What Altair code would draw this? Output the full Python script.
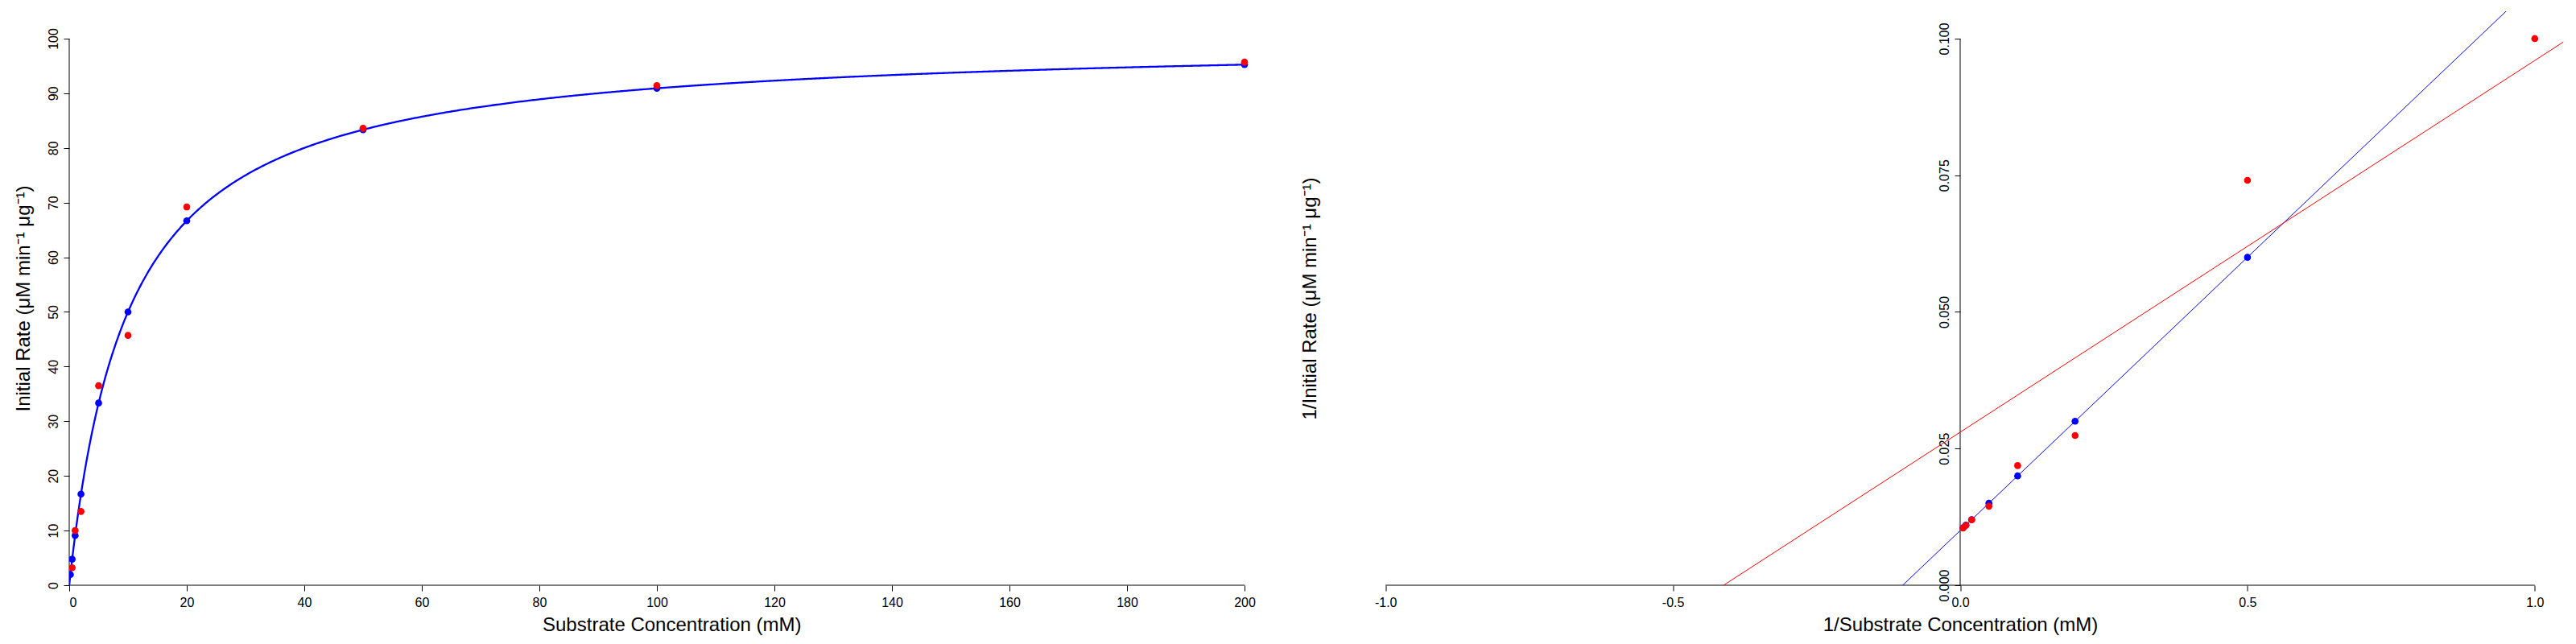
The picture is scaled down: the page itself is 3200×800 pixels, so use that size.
import altair as alt
import pandas as pd

# ---- data ----
S_blue = [0.2, 0.5, 1, 2, 5, 10, 20, 50, 100, 200]
v_blue = [1.96, 4.76, 9.09, 16.67, 33.33, 50.0, 66.67, 83.33, 90.91, 95.24]
S_red = [0.5, 1, 2, 5, 10, 20, 50, 100, 200]
v_red = [3.2, 10.0, 13.5, 36.5, 45.7, 69.2, 83.6, 91.4, 95.7]

# Michaelis-Menten fit (blue curve) parameters
VMAX = 100.0
KM = 10.0
# Lineweaver-Burk straight lines: intercept, slope
lb_names = ["blue", "red"]
lb_intercept = [0.01, 0.028]
lb_slope = [0.1, 0.068]

# axis extents / ticks
left_x_ticks = [0, 20, 40, 60, 80, 100, 120, 140, 160, 180, 200]
left_y_ticks = [0, 10, 20, 30, 40, 50, 60, 70, 80, 90, 100]
right_x_ticks = [-1.0, -0.5, 0.0, 0.5, 1.0]
right_y_ticks = [0.0, 0.025, 0.05, 0.075, 0.1]
left_x_domain = [0, 205]
left_y_domain = [0, 105]
right_x_domain = [-1.05, 1.05]
right_y_domain = [0, 0.105]

FONT = "Liberation Sans"

blue_df = pd.DataFrame({"S": S_blue, "v": v_blue})
red_df = pd.DataFrame({"S": S_red, "v": v_red})

# ---------------- left panel ----------------
W_L, W_R, H = 1496.5, 1499, 713

xL = alt.X("S:Q", scale=alt.Scale(domain=left_x_domain, nice=False, zero=False),
           axis=alt.Axis(values=left_x_ticks, format="d", title="Substrate Concentration (mM)",
                         labelPadding=6, titlePadding=8))
yL = alt.Y("v:Q", scale=alt.Scale(domain=left_y_domain, nice=False, zero=False),
           axis=alt.Axis(values=left_y_ticks, format="d", title="Initial Rate (μM min⁻¹ μg⁻¹)",
                         labelAngle=270, labelAlign="center", labelBaseline="bottom", labelPadding=5,
                         titleAngle=270, titleAlign="center", titleBaseline="middle",
                         titleX=-57, titleY=H / 2))

curve = alt.Chart(alt.sequence(0, 200.25, 0.25, as_="S")).transform_calculate(
    v=f"{VMAX}*datum.S/({KM}+datum.S)"
).mark_line(color="#0000ff", strokeWidth=2.3, clip=True).encode(x=xL, y=yL)

left_xaxis_line = alt.Chart(pd.DataFrame({"S": [left_x_ticks[0]], "S2": [left_x_ticks[-1]], "v": [0]})).mark_rule(
    color="black", strokeWidth=1).encode(x=xL, x2="S2:Q", y=yL)
left_yaxis_line = alt.Chart(pd.DataFrame({"S": [0], "v": [left_y_ticks[0]], "v2": [left_y_ticks[-1]]})).mark_rule(
    color="black", strokeWidth=1).encode(x=xL, y=yL, y2="v2:Q")

blue_pts_L = alt.Chart(blue_df).mark_circle(size=75, opacity=1, color="#0000ff", clip=True).encode(x=xL, y=yL)
red_pts_L = alt.Chart(red_df).mark_circle(size=75, opacity=1, color="#ff0000", clip=True).encode(x=xL, y=yL)

left = alt.layer(left_xaxis_line, left_yaxis_line, curve, blue_pts_L, red_pts_L).properties(width=W_L, height=H)

# ---------------- right panel ----------------
x_zero_px = (0 - right_x_domain[0]) / (right_x_domain[1] - right_x_domain[0]) * W_R

xR = alt.X("X:Q", scale=alt.Scale(domain=right_x_domain, nice=False, zero=False),
           axis=alt.Axis(values=right_x_ticks, title="1/Substrate Concentration (mM)",
                         labelExpr="replace(format(datum.value, '.1f'), '\u2212', '-')",
                         labelPadding=6, titlePadding=8))
yR = alt.Y("Y:Q", scale=alt.Scale(domain=right_y_domain, nice=False, zero=False),
           axis=alt.Axis(values=right_y_ticks, format=".3f", title="1/Initial Rate (μM min⁻¹ μg⁻¹)",
                         offset=-x_zero_px,
                         labelAngle=270, labelAlign="center", labelBaseline="bottom", labelPadding=5,
                         titleAngle=270, titleAlign="center", titleBaseline="middle",
                         titleX=-(x_zero_px + 58), titleY=H / 2))

lines_df = pd.DataFrame({"name": lb_names, "a": lb_intercept, "b": lb_slope})
ends_df = pd.DataFrame({"X": right_x_domain})
lb_lines = []
for nm, a, b, col in zip(lb_names, lb_intercept, lb_slope, ["#0000ff", "#ff0000"]):
    lb_lines.append(
        alt.Chart(ends_df).transform_calculate(Y=f"{a}+{b}*datum.X")
        .mark_line(color=col, strokeWidth=1, clip=True).encode(x=xR, y=yR)
    )

right_xaxis_line = alt.Chart(pd.DataFrame({"X": [right_x_ticks[0]], "X2": [right_x_ticks[-1]], "Y": [0]})).mark_rule(
    color="black", strokeWidth=1).encode(x=xR, x2="X2:Q", y=yR)
right_yaxis_line = alt.Chart(pd.DataFrame({"X": [0], "Y": [right_y_ticks[0]], "Y2": [right_y_ticks[-1]]})).mark_rule(
    color="black", strokeWidth=1).encode(x=xR, y=yR, y2="Y2:Q")

blue_pts_R = alt.Chart(blue_df).transform_calculate(X="1/datum.S", Y="1/datum.v").mark_circle(
    size=75, opacity=1, color="#0000ff", clip=True).encode(x=xR, y=yR)
red_pts_R = alt.Chart(red_df).transform_calculate(X="1/datum.S", Y="1/datum.v").mark_circle(
    size=75, opacity=1, color="#ff0000", clip=True).encode(x=xR, y=yR)

right = alt.layer(right_xaxis_line, right_yaxis_line, *lb_lines, blue_pts_R, red_pts_R).properties(
    width=W_R, height=H)

chart = alt.hconcat(left, right, spacing=102.5, bounds="flush").properties(
    padding={"left": 9, "top": 6, "right": 5, "bottom": 5}
).configure_view(stroke=None).configure_axis(
    grid=False, domain=False,
    labelFont=FONT, labelFontSize=16, labelColor="black",
    titleFont=FONT, titleFontSize=24, titleFontWeight="normal", titleColor="black",
    tickColor="black", tickSize=7, tickWidth=1,
)

chart.save("out.html", embed_options={"renderer": "svg", "actions": False})
